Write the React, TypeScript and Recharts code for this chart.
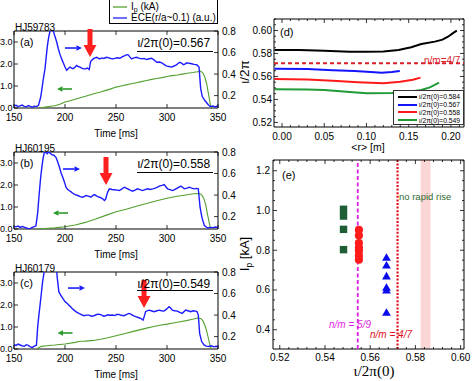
import React from 'react';
import {
  ComposedChart, LineChart, ScatterChart, Line, Scatter, XAxis, YAxis,
  ReferenceLine, ReferenceArea, ReferenceDot, Legend,
} from 'recharts';

const FONT = '"Liberation Sans", Arial, Helvetica, sans-serif';
const SERIF = '"Liberation Serif", "Times New Roman", serif';

type P = [number, number];

// ---------------- time traces (t [ms], value) ----------------
// ECE (r/a~0.1) (a.u.), right axis
const eceA: P[] = [[150,0.105],[152,0.11],[154,0.098],[156,0.104],[158,0.112],[160,0.1],[162,0.096],[164,0.107],[166,0.1],[168,0.093],[170,0.102],[172,0.098],[174,0.11],[176,0.18],[177,0.237],[178.5,0.34],[180.4,0.45],[182.7,0.66],[184,0.74],[185.3,0.8],[187,0.81],[188.6,0.8],[190,0.755],[191.8,0.7],[193.5,0.633],[195,0.585],[196.7,0.541],[198.5,0.5],[200,0.465],[201.6,0.435],[203,0.45],[204.9,0.465],[206.5,0.455],[208,0.45],[209.5,0.462],[211.4,0.48],[213,0.47],[214.7,0.465],[216.5,0.455],[218,0.45],[220,0.448],[221.9,0.456],[223.8,0.442],[225.1,0.517],[226.5,0.53],[227.7,0.541],[229.5,0.55],[231,0.556],[232.5,0.548],[234,0.541],[236,0.55],[238,0.545],[240.8,0.556],[243,0.55],[245,0.545],[247.3,0.541],[249.5,0.548],[251.5,0.552],[253.8,0.547],[256,0.56],[258.7,0.572],[260.5,0.58],[262,0.578],[263.5,0.56],[265.3,0.541],[267.5,0.55],[270.2,0.556],[272.5,0.548],[275,0.541],[277.5,0.545],[280,0.535],[282.5,0.542],[285,0.547],[287.5,0.53],[289.9,0.51],[292.5,0.512],[294.8,0.505],[297,0.49],[299.7,0.474],[302,0.47],[304.6,0.465],[307,0.475],[309.5,0.487],[311,0.5],[312.7,0.51],[314.5,0.5],[316,0.487],[318,0.495],[319.3,0.505],[321.5,0.5],[324.2,0.496],[326.5,0.49],[329.1,0.487],[331.4,0.465],[333,0.267],[334.6,0.191],[337.3,0.152],[340.5,0.115],[342.5,0.098],[345,0.103],[347.5,0.095],[350,0.108]];
const eceB: P[] = [[150,0.11],[152,0.105],[154,0.112],[156,0.1],[158,0.108],[160,0.102],[162,0.095],[164,0.088],[166,0.09],[168,0.1],[170,0.108],[171.5,0.115],[173.1,0.225],[174.7,0.41],[176,0.55],[177.3,0.66],[178.5,0.74],[179.6,0.79],[181,0.8],[182.5,0.785],[184,0.8],[185.5,0.79],[187,0.775],[189,0.77],[191,0.753],[192.8,0.71],[194.5,0.66],[196,0.61],[197.7,0.567],[199.5,0.52],[201,0.473],[202.5,0.455],[204,0.442],[206,0.43],[207.6,0.417],[210,0.405],[212.5,0.396],[215,0.385],[217.3,0.38],[219,0.388],[220.6,0.396],[223,0.39],[225.5,0.38],[227,0.395],[228.8,0.405],[230.5,0.395],[232,0.386],[234,0.38],[235.3,0.374],[237,0.365],[238.6,0.35],[239.8,0.36],[240.8,0.396],[242,0.43],[243.5,0.458],[246,0.452],[248.4,0.449],[251,0.446],[253.3,0.442],[255.5,0.455],[258.2,0.473],[260,0.465],[261.4,0.458],[264,0.445],[266.3,0.436],[268.5,0.445],[271.2,0.458],[273.5,0.45],[276.1,0.442],[278.5,0.45],[281,0.458],[283.5,0.452],[286,0.458],[288.5,0.465],[290.8,0.473],[293,0.485],[295,0.49],[297.3,0.498],[299,0.475],[300.6,0.458],[303,0.45],[305.5,0.442],[307,0.448],[308.8,0.458],[311,0.47],[313.7,0.483],[315.5,0.47],[317,0.458],[319.5,0.465],[321.9,0.473],[324,0.465],[326.8,0.458],[329,0.462],[330.7,0.458],[332.4,0.287],[334.3,0.19],[336.6,0.116],[339.9,0.094],[342.5,0.1],[345,0.098],[347.5,0.104],[350,0.1]];
const eceC: P[] = [[150,0.125],[152,0.118],[154,0.13],[156,0.122],[158,0.115],[160,0.11],[162,0.125],[164,0.118],[166,0.105],[168,0.1],[170,0.112],[172,0.12],[173.1,0.277],[174.3,0.39],[175.5,0.49],[176.8,0.6],[178,0.708],[179.6,0.8],[181,0.86],[183,0.9],[186,0.9],[189,0.88],[191.5,0.85],[192.5,0.738],[194,0.615],[195.8,0.585],[197.5,0.56],[199,0.538],[200.5,0.52],[202.3,0.508],[204,0.49],[205.5,0.477],[207,0.46],[208.8,0.446],[211,0.43],[213.7,0.415],[216,0.405],[218.6,0.394],[221,0.4],[223.5,0.4],[226,0.39],[228.4,0.394],[231,0.405],[233.3,0.409],[236,0.4],[238,0.39],[239.9,0.394],[242,0.403],[244,0.398],[246.4,0.4],[249,0.395],[250.5,0.405],[252.9,0.406],[255,0.398],[257.8,0.394],[260,0.405],[262.7,0.415],[264.5,0.408],[266,0.4],[267.5,0.392],[269.3,0.385],[271,0.38],[272.5,0.375],[274.5,0.368],[276.5,0.354],[277.8,0.39],[279,0.431],[280.5,0.44],[282.4,0.446],[284.5,0.44],[287.3,0.431],[289.5,0.438],[292.2,0.446],[294.5,0.44],[297.1,0.437],[299.5,0.455],[302,0.477],[303.5,0.465],[305.2,0.446],[307.5,0.44],[310.1,0.437],[312.5,0.425],[315,0.415],[316.5,0.43],[318.3,0.446],[320.5,0.44],[323.2,0.431],[325.5,0.44],[328.1,0.437],[329.5,0.43],[330.7,0.4],[332,0.23],[334,0.154],[336.3,0.123],[338.5,0.112],[341,0.108],[343.5,0.115],[346,0.105],[348,0.11],[350,0.108]];
// Ip (kA), left axis
const ipA: P[] = [[174,0],[178,0.02],[182,0.05],[186,0.08],[190,0.1],[195,0.17],[200,0.27],[205,0.33],[210,0.4],[215,0.47],[220,0.53],[225,0.6],[230,0.67],[235,0.73],[240,0.8],[245,0.87],[250,0.95],[255,1.0],[260,1.05],[265,1.1],[270,1.15],[275,1.2],[280,1.25],[285,1.3],[290,1.34],[295,1.38],[300,1.43],[305,1.47],[310,1.5],[315,1.54],[320,1.58],[325,1.61],[330,1.65],[333,1.68],[335,1.6],[337,1.42],[339,1.08],[341,0.55],[342.5,0.15],[344,0]];
const ipB: P[] = [[172,0],[180,0.02],[190,0.05],[200,0.1],[210,0.18],[220,0.3],[230,0.45],[240,0.62],[250,0.78],[260,0.9],[270,1.03],[280,1.16],[290,1.28],[300,1.4],[310,1.49],[320,1.56],[326,1.6],[332,1.61],[334,1.55],[336,1.4],[338,1.1],[340,0.6],[342,0.15],[343,0]];
const ipC: P[] = [[172,0],[175,0.08],[177,0.12],[182,0.15],[190,0.18],[200,0.23],[210,0.3],[215,0.35],[220,0.36],[228,0.39],[235,0.44],[241,0.5],[248,0.58],[254,0.65],[260,0.72],[267,0.8],[273,0.87],[280,0.95],[287,1.02],[293,1.08],[300,1.13],[306,1.18],[313,1.24],[319,1.29],[325,1.35],[330,1.41],[333,1.39],[335,1.3],[337,1.1],[339,0.8],[340.5,0.5],[342,0.2],[343,0.05],[344,0]];

const shotNames = ['HJ59783', 'HJ60195', 'HJ60179'];
const panelTags = ['(a)', '(b)', '(c)'];
const iotaLabels = ['ι/2π(0)=0.567', 'ι/2π(0)=0.558', 'ι/2π(0)=0.549'];
const timeTicks = [150, 200, 250, 300, 350];
const ipTicks = [0, 1, 2, 3];
const eceTicks = [0.2, 0.4, 0.6, 0.8];
// annotation anchors in data units [t, value]
const redArrowAt: P[] = [[224.5, 0.559], [240.2, 0.494], [277.5, 0.466]];
const blueArrowAt: P[] = [[208.3, 0.642], [206.4, 0.642], [211.3, 0.651]];
const greenArrowAt: P[] = [[199.5, 0.864], [195.6, 0.727], [200, 0.727]];

// ---------------- (d) iota profiles (<r> [m], iota/2pi) ----------------
const prof584: P[] = [[-0.009,0.583],[0.02,0.583],[0.05,0.5824],[0.08,0.5816],[0.1,0.5814],[0.12,0.5818],[0.138,0.583],[0.153,0.5854],[0.165,0.5882],[0.181,0.5903],[0.19,0.592],[0.1966,0.5946],[0.202,0.5975],[0.207,0.5998]];
const prof567: P[] = [[-0.009,0.5667],[0.03,0.5665],[0.06,0.5655],[0.086,0.5647],[0.105,0.5638],[0.118,0.5633],[0.13,0.5638],[0.1395,0.5648]];
const prof558: P[] = [[-0.009,0.5578],[0.03,0.5574],[0.06,0.5562],[0.09,0.555],[0.12,0.5541],[0.14,0.5553],[0.155,0.5572],[0.164,0.559]];
const prof549: P[] = [[-0.009,0.5488],[0.03,0.5486],[0.05,0.5482],[0.08,0.5465],[0.1,0.5454],[0.13,0.5456],[0.15,0.5467],[0.165,0.5482],[0.175,0.5505],[0.186,0.5546]];
const profNames = ['ι/2π(0)=0.584', 'ι/2π(0)=0.567', 'ι/2π(0)=0.558', 'ι/2π(0)=0.549'];
const resonance47 = 0.5714;

// ---------------- (e) Ip vs iota(0) ----------------
const squaresE: P[] = [[0.5482,1.006],[0.5482,0.972],[0.5482,0.905],[0.5482,0.803]];
const circlesE: P[] = [[0.555,0.902],[0.555,0.874],[0.555,0.836],[0.555,0.812],[0.555,0.797],[0.555,0.772],[0.555,0.752]];
const trianglesE: P[] = [[0.5672,0.765],[0.5672,0.726],[0.5672,0.671],[0.5672,0.614],[0.5672,0.6],[0.5672,0.488]];
const res59 = 0.5545;
const res47 = 0.5721;
const noRiseBand: P = [0.5823, 0.5867];

const steps = (a: number, b: number, s: number) => {
  const out: number[] = [];
  for (let k = 0; a + k * s <= b + 1e-9; k++) out.push(+(a + k * s).toFixed(4));
  return out;
};
const isIn = (arr: number[], v: number) => arr.some((m) => Math.abs(m - v) < 1e-7);

const COL = {
  blue: '#1c1cff', ip: '#52a02e', garrow: '#2a9a2a', red: '#ff1f1f',
  dBlack: '#000000', dBlue: '#1414ff', dRed: '#ff1a1a', dGreen: '#1f9a35',
  sq: '#1d5e34', circ: '#ff1a1a', tri: '#0a0aee', magenta: '#e21ee2', red47: '#e0101c', band: '#fbd6d6',
};

const mkXTick = (T: number, B: number, majors: number[], fmt: (v: number) => string) => (p: any) => {
  const v = p.payload.value;
  const major = isIn(majors, v);
  const len = major ? 4 : 2;
  return (
    <g>
      <line x1={p.x} x2={p.x} y1={B} y2={B - len} stroke="#000" strokeWidth={0.8} />
      <line x1={p.x} x2={p.x} y1={T} y2={T + len} stroke="#000" strokeWidth={0.8} />
      {major && (
        <text x={p.x} y={p.y} dy="0.71em" textAnchor="middle" fontSize={10} fill="#000" fontFamily={FONT}>{fmt(v)}</text>
      )}
    </g>
  );
};
const mkYTick = (L: number, R: number, majors: number[], fmt: (v: number) => string, left: boolean, right: boolean, anchor: 'start' | 'end', fs = 10) => (p: any) => {
  const v = p.payload.value;
  const major = isIn(majors, v);
  const len = major ? 4 : 2;
  return (
    <g>
      {left && <line x1={L} x2={L + len} y1={p.y} y2={p.y} stroke="#000" strokeWidth={0.8} />}
      {right && <line x1={R} x2={R - len} y1={p.y} y2={p.y} stroke="#000" strokeWidth={0.8} />}
      {major && (
        <text x={p.x} y={p.y} dy="0.35em" textAnchor={anchor} fontSize={fs} fill="#000" fontFamily={FONT}>{fmt(v)}</text>
      )}
    </g>
  );
};

const RedArrow = (p: any) => {
  const { cx, cy } = p;
  const pts = [[cx - 2.5, cy - 28], [cx + 2.5, cy - 28], [cx + 2.5, cy - 12], [cx + 6.5, cy - 12], [cx, cy], [cx - 6.5, cy - 12], [cx - 2.5, cy - 12]];
  return <polygon points={pts.map((q) => q.join(',')).join(' ')} fill={COL.red} />;
};
const SideArrow = (dir: number, color: string, half: number) => (p: any) => {
  const { cx, cy } = p;
  const tip = cx + dir * half;
  const base = tip - dir * 5.5;
  return (
    <g>
      <line x1={cx - dir * half} x2={base} y1={cy} y2={cy} stroke={color} strokeWidth={1.6} />
      <polygon points={`${tip},${cy} ${base},${cy - 2.8} ${base},${cy + 2.8}`} fill={color} />
    </g>
  );
};

const legendA = [
  { key: 'ip', color: COL.ip },
  { key: 'ece', color: COL.blue },
];
const LegendA = () => (
  <div style={{ width: 109, height: 26, border: '1px solid #000', boxSizing: 'border-box', background: '#fff', fontFamily: FONT, fontSize: 10, color: '#000', paddingTop: 2 }}>
    {legendA.map((it) => (
      <div key={it.key} style={{ display: 'flex', alignItems: 'center', height: 11, whiteSpace: 'nowrap' }}>
        <svg width={18} height={4} style={{ marginLeft: 2, flex: 'none' }}>
          <line x1={1} x2={15} y1={2} y2={2} stroke={it.color} strokeWidth={1.3} />
        </svg>
        {it.key === 'ip' ? (
          <span style={{ marginLeft: 1 }}>I<span style={{ fontSize: 7, position: 'relative', top: 2 }}>p</span> (kA)</span>
        ) : (
          <span style={{ marginLeft: 1 }}>ECE(r/a~0.1) (a.u.)</span>
        )}
      </div>
    ))}
  </div>
);

const profColors = [COL.dBlack, COL.dBlue, COL.dRed, COL.dGreen];
const LegendD = () => (
  <div style={{ width: 71, height: 35, border: '1px solid #333', boxSizing: 'border-box', background: '#fff', fontFamily: FONT, fontSize: 6.8, color: '#000', paddingTop: 2 }}>
    {profNames.map((n, i) => (
      <div key={n} style={{ display: 'flex', alignItems: 'center', height: 7.8, whiteSpace: 'nowrap' }}>
        <svg width={21} height={4} style={{ marginLeft: 3, flex: 'none' }}>
          <line x1={1} x2={20} y1={2} y2={2} stroke={profColors[i]} strokeWidth={2} />
        </svg>
        <span style={{ marginLeft: 1 }}>{n}</span>
      </div>
    ))}
  </div>
);

const toTV = (a: P[]) => a.map(([t, v]) => ({ t, v }));
const toXY = (a: P[]) => a.map(([x, y]) => ({ x, y }));

const TL = 14, TR = 218, TT = 31, TB = 108;
const ipDomain: [number, number] = [0, 3.5];
const eceDomain: [number, number] = [0.085, 0.8];

function TracePanel({ i, ece, ip }: { i: number; ece: P[]; ip: P[] }) {
  return (
    <ComposedChart width={240} height={140} margin={{ top: TT, right: 0, bottom: 0, left: 0 }}>
      <XAxis dataKey="t" type="number" domain={[150, 350]} allowDataOverflow ticks={timeTicks} interval={0} height={32}
        tickSize={0} tickMargin={6} axisLine={false} tickLine={false} tick={mkXTick(TT, TB, timeTicks, (v) => String(v))} />
      <YAxis yAxisId="ip" type="number" domain={ipDomain} allowDataOverflow ticks={ipTicks} interval={0} width={14}
        tickSize={0} tickMargin={1.5} axisLine={false} tickLine={false} tick={mkYTick(TL, TR, ipTicks, (v) => v.toFixed(1), true, false, 'end', 9)} />
      <YAxis yAxisId="ece" orientation="right" type="number" domain={eceDomain} allowDataOverflow ticks={eceTicks} interval={0} width={22}
        tickSize={0} tickMargin={4} axisLine={false} tickLine={false} tick={mkYTick(TL, TR, eceTicks, (v) => v.toFixed(1), false, true, 'start')} />
      <ReferenceArea yAxisId="ip" x1={150} x2={350} y1={ipDomain[0]} y2={ipDomain[1]} fill="none" fillOpacity={0} stroke="#000" strokeWidth={1} />
      <Line yAxisId="ip" data={toTV(ip)} dataKey="v" name="Ip (kA)" stroke={COL.ip} strokeWidth={1.1} dot={false} isAnimationActive={false} />
      <Line yAxisId="ece" data={toTV(ece)} dataKey="v" name="ECE(r/a~0.1) (a.u.)" stroke={COL.blue} strokeWidth={1.4} dot={false} isAnimationActive={false} />
      <ReferenceDot yAxisId="ece" x={blueArrowAt[i][0]} y={blueArrowAt[i][1]} r={1} ifOverflow="visible" shape={SideArrow(1, COL.blue, 8.5)} />
      <ReferenceDot yAxisId="ip" x={greenArrowAt[i][0]} y={greenArrowAt[i][1]} r={1} ifOverflow="visible" shape={SideArrow(-1, COL.garrow, 7.5)} />
      <ReferenceDot yAxisId="ece" x={redArrowAt[i][0]} y={redArrowAt[i][1]} r={1} ifOverflow="visible" shape={RedArrow} />
      {i === 0 && (
        <Legend layout="vertical" align="center" verticalAlign="middle" content={() => <LegendA />}
          wrapperStyle={{ left: 109, top: -2, width: 109, height: 26 }} />
      )}
    </ComposedChart>
  );
}

// (d) geometry
const dX: [number, number] = [-0.0095, 0.2155];
const dY: [number, number] = [0.516, 0.61];
const dXMaj = [0, 0.05, 0.1, 0.15, 0.2];
const dXTicks = steps(0, 0.21, 0.01);
const dYMaj = [0.52, 0.54, 0.56, 0.58, 0.6];
const dYTicks = steps(0.52, 0.61, 0.005);
// (e) geometry
const eX: [number, number] = [0.517, 0.6015];
const eY: [number, number] = [0.303, 1.254];
const eXMaj = [0.52, 0.54, 0.56, 0.58, 0.6];
const eXTicks = steps(0.52, 0.6, 0.004);
const eYMaj = [0.4, 0.6, 0.8, 1.0, 1.2];
const eYTicks = steps(0.35, 1.25, 0.05);

const Square = (p: any) => <rect x={p.cx - 3.7} y={p.cy - 3.7} width={7.4} height={7.4} fill={COL.sq} />;
const Circ = (p: any) => <circle cx={p.cx} cy={p.cy} r={4.1} fill={COL.circ} />;
const Tri = (p: any) => <polygon points={`${p.cx},${p.cy - 4} ${p.cx + 4.4},${p.cy + 3.6} ${p.cx - 4.4},${p.cy + 3.6}`} fill={COL.tri} />;

export default function App() {
  const eces = [eceA, eceB, eceC];
  const ips = [ipA, ipB, ipC];
  const tops = [0, 121, 241];
  const profs = [prof584, prof567, prof558, prof549];
  return (
    <div style={{ position: 'absolute', left: 0, top: 0, width: 474, height: 381, background: '#fff', overflow: 'hidden', fontFamily: FONT }}>
      {tops.map((top, i) => (
        <div key={i} style={{ position: 'absolute', left: 0, top }}>
          <TracePanel i={i} ece={eces[i]} ip={ips[i]} />
        </div>
      ))}

      <div style={{ position: 'absolute', left: 240, top: 0 }}>
        <LineChart width={234} height={160} margin={{ top: 19, right: 10, bottom: 0, left: 0 }}>
          <XAxis dataKey="x" type="number" domain={dX} allowDataOverflow ticks={dXTicks} interval={0} height={33}
            tickSize={0} tickMargin={6} axisLine={false} tickLine={false} tick={mkXTick(19, 127, dXMaj, (v) => v.toFixed(2))} />
          <YAxis type="number" domain={dY} allowDataOverflow ticks={dYTicks} interval={0} width={34}
            tickSize={0} tickMargin={2} axisLine={false} tickLine={false} tick={mkYTick(34, 224, dYMaj, (v) => v.toFixed(2), true, true, 'end')} />
          <ReferenceArea x1={dX[0]} x2={dX[1]} y1={dY[0]} y2={dY[1]} fill="none" fillOpacity={0} stroke="#000" strokeWidth={1} />
          <ReferenceLine y={resonance47} stroke="#d8202a" strokeWidth={2} strokeDasharray="4 3" />
          {profs.map((pr, k) => (
            <Line key={k} data={toXY(pr)} dataKey="y" name={profNames[k]} stroke={profColors[k]} strokeWidth={2} dot={false} isAnimationActive={false} />
          ))}
          <Legend layout="vertical" align="center" verticalAlign="middle" content={() => <LegendD />}
            wrapperStyle={{ left: 153, top: 90, width: 71, height: 35 }} />
        </LineChart>
      </div>

      <div style={{ position: 'absolute', left: 240, top: 150 }}>
        <ScatterChart width={234} height={231} margin={{ top: 10, right: 10, bottom: 0, left: 0 }}>
          <XAxis dataKey="x" type="number" domain={eX} allowDataOverflow ticks={eXTicks} interval={0} height={32}
            tickSize={0} tickMargin={5} axisLine={false} tickLine={false} tick={mkXTick(10, 199, eXMaj, (v) => v.toFixed(2))} />
          <YAxis dataKey="y" type="number" domain={eY} allowDataOverflow ticks={eYTicks} interval={0} width={33}
            tickSize={0} tickMargin={3} axisLine={false} tickLine={false} tick={mkYTick(33, 224, eYMaj, (v) => v.toFixed(1), true, true, 'end')} />
          <ReferenceArea x1={noRiseBand[0]} x2={noRiseBand[1]} y1={eY[0]} y2={eY[1]} fill={COL.band} fillOpacity={1} stroke="none" />
          <ReferenceLine x={res59} stroke={COL.magenta} strokeWidth={1.8} strokeDasharray="4 2.5" />
          <ReferenceLine x={res47} stroke={COL.red47} strokeWidth={2.2} strokeDasharray="2 1.6" />
          <Scatter data={toXY(squaresE)} shape={Square} isAnimationActive={false} />
          <Scatter data={toXY(circlesE)} shape={Circ} isAnimationActive={false} />
          <Scatter data={toXY(trianglesE)} shape={Tri} isAnimationActive={false} />
          <ReferenceArea x1={eX[0]} x2={eX[1]} y1={eY[0]} y2={eY[1]} fill="none" fillOpacity={0} stroke="#000" strokeWidth={1} />
        </ScatterChart>
      </div>

      <svg width={474} height={381} style={{ position: 'absolute', left: 0, top: 0, pointerEvents: 'none' }} fontFamily={FONT}>
        {tops.map((top, i) => (
          <g key={i}>
            <text x={15} y={top + 30.5} fontSize={10} fill="#000">{shotNames[i]}</text>
            <text x={20} y={top + 45.5} fontSize={11} fill="#000">{panelTags[i]}</text>
            <text x={137.5} y={top + 46.5} fontSize={12} fill="#000">{iotaLabels[i]}</text>
            <line x1={137} x2={213} y1={i === 2 ? top + 49.5 : top + 51.5} y2={i === 2 ? top + 49.5 : top + 51.5} stroke="#000" strokeWidth={1} />
            <text x={116} y={top + 136.5} fontSize={10} textAnchor="middle" fill="#000">Time [ms]</text>
          </g>
        ))}
        <text x={280} y={35.5} fontSize={11} fill="#000">(d)</text>
        <text x={424} y={64} fontSize={10} fill="#d8202a">n/m=4/7</text>
        <text x={249} y={72} fontSize={13.5} textAnchor="middle" transform="rotate(-90 249 72)" fill="#000">ι/2π</text>
        <text x={368} y={151} fontSize={10.5} textAnchor="middle" fill="#000">{'<r> [m]'}</text>

        <text x={282} y={179} fontSize={11} fill="#000">(e)</text>
        <text x={399} y={199.5} fontSize={9.5} fill="#2f6b2f">no rapid rise</text>
        <text x={329} y={327.5} fontSize={10} fontStyle="italic" fill={COL.magenta}>n/m = 5/9</text>
        <text x={370} y={337.5} fontSize={10} fontStyle="italic" fill={COL.red47}>n/m = 4/7</text>
        <text x={249} y={254} fontSize={13} textAnchor="middle" transform="rotate(-90 249 254)" fill="#000">
          I<tspan fontSize={8.5} dy={2.5}>p</tspan><tspan dy={-2.5}> [kA]</tspan>
        </text>
        <text x={374} y={375.5} fontSize={15} textAnchor="middle" fontFamily={SERIF} fill="#000">ι/2π(0)</text>
      </svg>
    </div>
  );
}
